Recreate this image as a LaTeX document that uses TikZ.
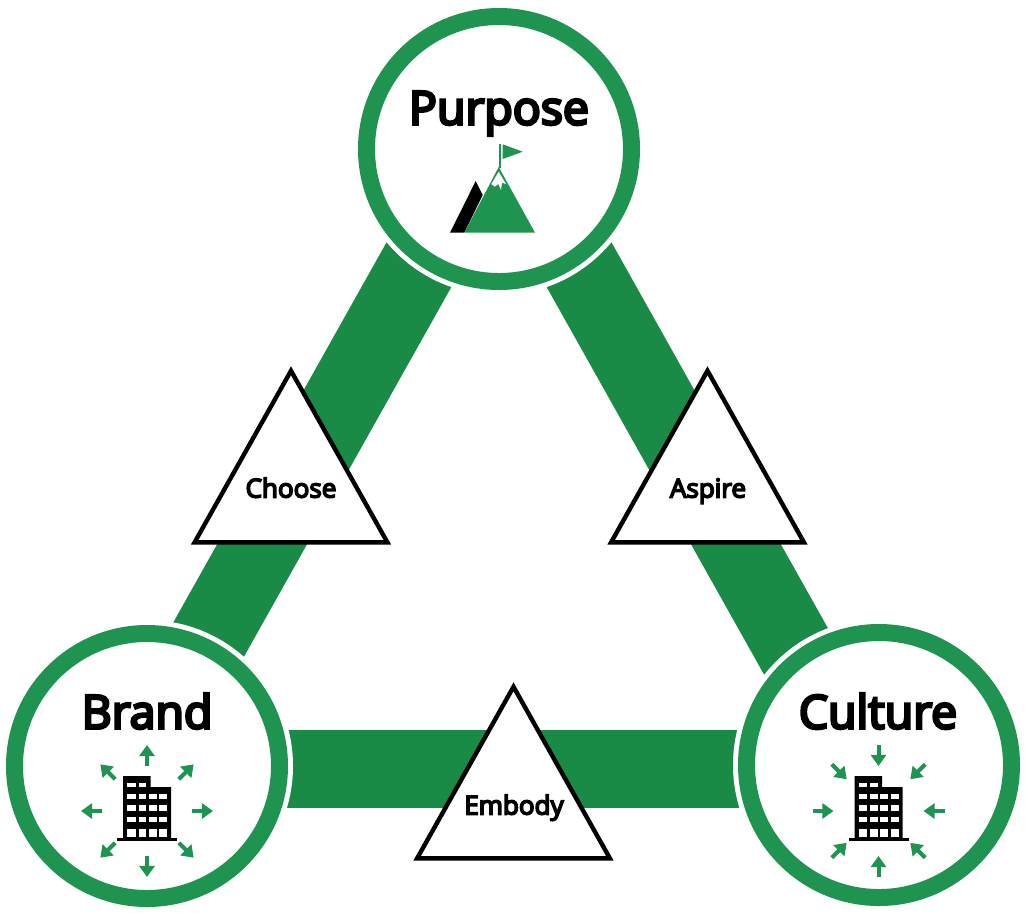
\documentclass[tikz,border=0pt]{standalone}
\usepackage{fontspec}
\setmainfont{Open Sans}
\newfontfamily\semifont{Open Sans}[FakeBold=6]
\usetikzlibrary{arrows.meta, positioning, backgrounds, shapes.geometric}

\definecolor{ringgreen}{HTML}{1E9450}
\definecolor{bargreen}{HTML}{1A8B47}

\begin{document}
\begin{tikzpicture}[
    x=0.25mm, y=-0.25mm,
    hub/.style={circle, draw=ringgreen, fill=white, line width=4.25mm, minimum size=66.25mm, inner sep=0pt,
        preaction={draw=white, line width=6.75mm}},
    bar/.style={bargreen, line width=19.6mm},
    tri/.style={isosceles triangle, isosceles triangle stretches, shape border rotate=90, draw=black, fill=white,
        line width=1.1mm, line join=miter, minimum width=48.2mm, minimum height=42.9mm, inner sep=0pt},
    title/.style={font=\fontsize{33}{36}\semifont, text=black, inner sep=0pt, anchor=base},
    tag/.style={font=\fontsize{18.5}{20}\semifont, text=black, inner sep=0pt, anchor=base},
    ray/.style={ringgreen, line width=1mm, -{Triangle[length=2.8mm, width=3.8mm]}},
    building/.pic={
        \fill[black] (-24,-35) -- (3.7,-35) -- (3.7,-24) -- (24,-24) -- (24,27) -- (-24,27) -- cycle;
        \fill[black] (-30,27) rectangle (30,30);
        % windows, top row only has two
        \foreach \xa/\xb in {-19.7/-11.3, -8.3/-1}
            \fill[white] (\xa,-28) rectangle (\xb,-23.7);
        \foreach \xa/\xb in {-19.7/-11.3, -8.3/-1, 1.7/9.7, 12.3/20.3} {
            \foreach \ya/\yb in {-16.7/-11.7, -5.7/-0.3, 6.3/11.3, 18/26}
                \fill[white] (\xa,\ya) rectangle (\xb,\yb);
        }
    },
    arrows out/.pic={
        \foreach \a in {0,45,...,315}
            \draw[ray] (\a:45) -- (\a:66);
    },
    arrows in/.pic={
        \foreach \a in {0,45,...,315}
            \draw[ray] (\a:66) -- (\a:45);
    }
]
    \useasboundingbox (0,0) rectangle (1025,912);

    % === Circles ===
    \node[hub] (purpose) at (499,149) {};
    \node[hub] (brand) at (147,766) {};
    \node[hub] (culture) at (879,765) {};

    % === Bars behind the circles ===
    % they meet a little off the circle centres
    \coordinate (barTop) at (499,122);
    \coordinate (barLeft) at (136,769);
    \coordinate (barRight) at (862,769);
    \begin{scope}[on background layer]
        \draw[bar] (barTop) -- (barLeft);
        \draw[bar] (barTop) -- (barRight);
        \draw[bar] (barLeft) -- (barRight);
    \end{scope}

    % === Titles ===
    \node[title] (purposeText) at (499,124.5) {Purpose};
    \node[title] (brandText) at (147,728.5) {Brand};
    \node[title] (cultureText) at (878,728.5) {Culture};

    % === Triangles ===
    \node[tri, anchor=apex] (choose) at (291,365) {};
    \node[tri, anchor=apex] (aspire) at (707.5,365) {};
    \node[tri, anchor=apex] (embody) at (513.5,681) {};
    \node[tag] (chooseText) at (291,497.5) {Choose};
    \node[tag] (aspireText) at (708,497.5) {Aspire};
    \node[tag] (embodyText) at (514,814.5) {Embody};

    % === Mountain ===
    \fill[black] (450,232.7) -- (475.7,181) -- (482.7,195) -- (464.3,232.7) -- cycle;
    \fill[ringgreen] (464.3,232.7) -- (498.7,167) -- (535,232.7) -- cycle;
    \fill[white] (498.7,171.7) -- (506,184) -- (502,182.7) -- (501,190) -- (498.3,184) -- (494.7,186.7) -- (491.3,184) -- cycle;
    \draw[ringgreen, line width=0.6mm] (499.7,144) -- (499.7,168);
    \fill[ringgreen] (502.7,144.3) -- (522.7,151.7) -- (502.7,159) -- cycle;

    % === Buildings and arrows ===
    \pic at (147,811) {building};
    \pic at (147,811) {arrows out};
    \pic at (878.5,811) {building};
    \pic at (878.5,811) {arrows in};
\end{tikzpicture}
\end{document}
